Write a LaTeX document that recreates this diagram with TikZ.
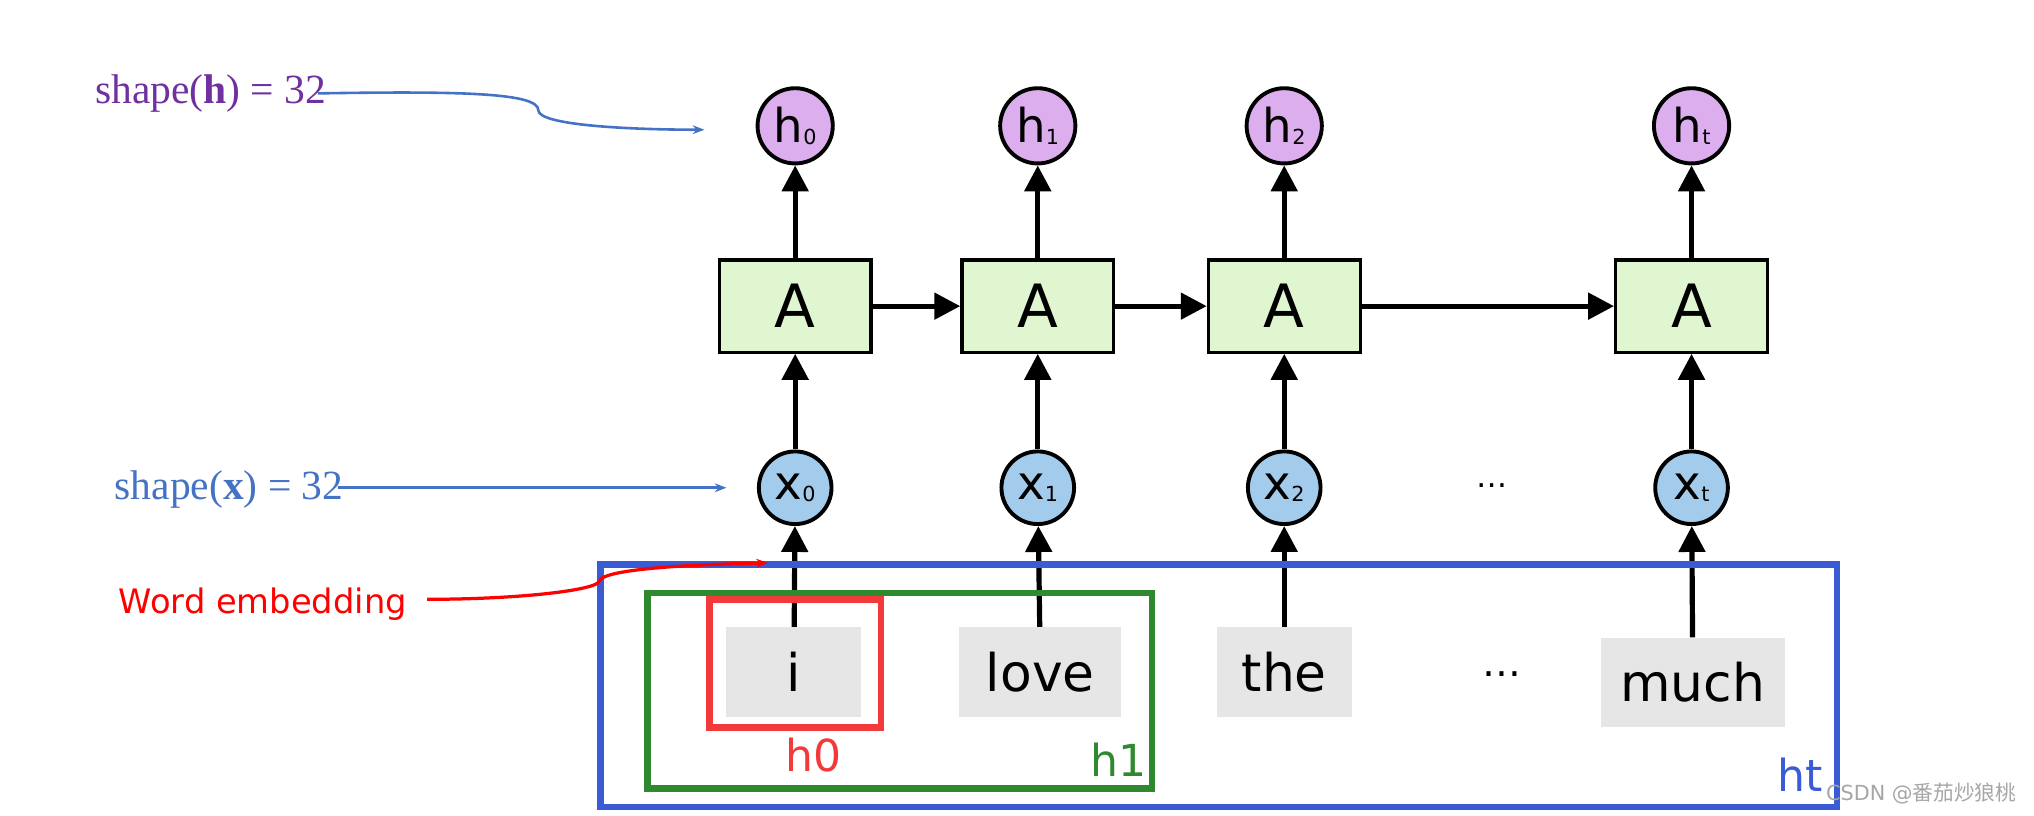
\documentclass[tikz,border=0pt]{standalone}
\usepackage{fontspec}
\setmainfont{Liberation Serif}
\setsansfont{DejaVu Sans}
\usetikzlibrary{arrows.meta}
\definecolor{hpur}{HTML}{DDAEEE}
\definecolor{xblu}{HTML}{A3CBEC}
\definecolor{agrn}{HTML}{E0F6D0}
\definecolor{wgry}{HTML}{E6E6E6}
\definecolor{lblue}{HTML}{4472C4}
\definecolor{bbox}{HTML}{3A5BD6}
\definecolor{gbox}{HTML}{2F8A2F}
\definecolor{rbox}{HTML}{F23A3A}
\definecolor{purp}{HTML}{7030A0}
\begin{document}
\begin{tikzpicture}[x=1pt,y=-1pt,
  hc/.style={circle,draw,line width=3pt,fill=hpur,minimum size=58pt,inner sep=0pt,font=\sffamily\fontsize{36}{36}\selectfont},
  xc/.style={circle,draw,line width=3pt,fill=xblu,minimum size=56pt,inner sep=0pt,font=\sffamily\fontsize{36}{36}\selectfont},
  ab/.style={rectangle,draw,line width=2.5pt,fill=agrn,minimum width=117pt,minimum height=71pt,font=\sffamily\fontsize{46}{46}\selectfont},
  wb/.style={rectangle,fill=wgry,minimum height=69pt,inner sep=0pt,font=\sffamily\fontsize{40}{40}\selectfont},
  ar/.style={line width=4pt,-{Triangle[length=20pt,width=20pt]}},
  sub/.style={font=\sffamily\fontsize{16}{16}\selectfont}]
\useasboundingbox (0,0) rectangle (1568,629);
\foreach \n/\x/\s in {0/613/0,1/800/1,2/990/2,t/1304/t}{
  \node[hc] (h\n) at (\x,97) {h\raisebox{-2pt}{\fontsize{16}{16}\selectfont\s}};
  \node[ab] (A\n) at (\x,236) {A};
  \node[xc] (x\n) at (\x,376) {x\raisebox{-2pt}{\fontsize{16}{16}\selectfont\s}};
  \draw[ar] (A\n) -- (h\n);
  \draw[ar] (x\n) -- (A\n);
}
\node[wb,minimum width=104pt] (w0) at (612,518) {i};
\node[wb,minimum width=125pt] (w1) at (802,518) {love};
\node[wb,minimum width=104pt] (w2) at (990,518) {the};
\node[wb,minimum width=142pt] (wt) at (1305,526) {much};
\node[font=\sffamily\fontsize{30}{30}\selectfont] (d1) at (1158,520) {\ldots};
\node[font=\sffamily\fontsize{24}{24}\selectfont] (d2) at (1150,374) {\ldots};
\foreach \n in {0,1,2,t}{\draw[ar] (w\n) -- (x\n);}
\draw[ar] (A0) -- (A1);
\draw[ar] (A1) -- (A2);
\draw[ar] (A2) -- (At);
% boxes
\draw[bbox,line width=5pt] (463,435) rectangle (1416,622);
\draw[gbox,line width=5pt] (499,457) rectangle (888,608);
\draw[rbox,line width=5pt] (547,462) rectangle (679,561);
\node[rbox,font=\sffamily\fontsize{34}{34}\selectfont] (l0) at (627,582) {h0};
\node[gbox,font=\sffamily\fontsize{34}{34}\selectfont] (l1) at (862,586) {h1};
\node[bbox,font=\sffamily\fontsize{34}{34}\selectfont] (lt) at (1388,597) {ht};
% annotations
\node[purp,anchor=west,font=\fontsize{32}{32}\selectfont] (sh) at (70,72) {shape($\mathbf{h}$) = 32};
\coordinate (hend) at (543,100);
\draw[lblue,line width=2pt,-{Stealth[length=9pt]}] (sh.east) ++(-10,0) .. controls (360,70) and (415,72) .. (415,85) .. controls (415,97) and (490,100) .. (hend);
\node[lblue,anchor=west,font=\fontsize{32}{32}\selectfont] (sx) at (85,377) {shape($\mathbf{x}$) = 32};
\coordinate (xend) at (560,376);
\draw[lblue,line width=2pt,-{Stealth[length=9pt]}] (sx.east) ++(-8,-1) -- (xend);
\node[red,anchor=west,font=\sffamily\fontsize{26}{26}\selectfont] (we) at (88,466) {Word embedding};
\coordinate (wend) at (592,434);
\draw[red,line width=2.5pt,-{Stealth[length=9pt]}] (we.east) ++(12,-4) .. controls (400,462) and (460,455) .. (462,448) .. controls (465,438) and (540,435) .. (wend);
\node[gray!70,anchor=east,font=\sffamily\fontsize{16}{16}\selectfont] (cs) at (1558,612) {CSDN @\fontspec{Noto Sans CJK SC}番茄炒狼桃};
\end{tikzpicture}
\end{document}
